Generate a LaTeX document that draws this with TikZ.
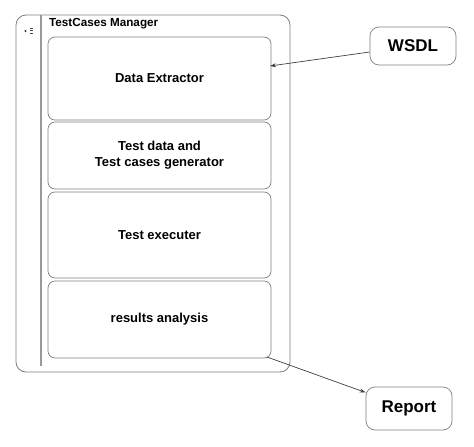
\documentclass[tikz,border=0pt]{standalone}
\usepackage{fontspec}
\setmainfont{Liberation Sans}
\usetikzlibrary{arrows.meta}
\definecolor{frame}{RGB}{128,128,128}
\tikzset{
  part/.style={draw=frame, rounded corners=7pt, minimum width=223pt, align=center, font=\bfseries\fontsize{13}{16}\selectfont, line width=0.7pt},
  ext/.style={draw=frame, rounded corners=9pt, minimum width=86pt, minimum height=38pt, font=\bfseries\fontsize{17}{20}\selectfont, line width=0.7pt},
  link/.style={draw=black!75, line width=0.7pt, -{Stealth[length=6pt,width=4pt]}}
}
\begin{document}
\begin{tikzpicture}[x=1pt,y=-1pt]
\useasboundingbox (0,0) rectangle (474,447);
% container
\draw[frame, line width=0.8pt, rounded corners=10pt] (16,15) rectangle (290,372);
\draw[black!40, line width=1.3pt] (41,15) -- (41,366);
\node[anchor=west, font=\bfseries\fontsize{11.7}{14}\selectfont, inner sep=0pt] (title) at (49,24) {TestCases Manager};
% icon
\fill[black!80] (25.5,31) circle (1.2pt);
\foreach \y in {28,30.5,33}
  \draw[black!70, line width=1pt] (30,\y) -- (33,\y);
% parts
\node[part, minimum height=83pt] (extract) at (159.5,78.5) {Data Extractor};
\node[part, minimum height=67pt] (gen) at (159.5,155.5) {Test data and\\Test cases generator};
\node[part, minimum height=86pt] (exec) at (159.5,235) {Test executer};
\node[part, minimum height=77pt] (result) at (159.5,319.5) {results analysis};
% outside
\node[ext] (wsdl) at (413,46) {WSDL};
\node[ext, minimum height=43pt] (report) at (409,408.5) {Report};
\coordinate (in) at (270,66);
\coordinate (out) at (267,357);
\draw[link] (wsdl.west) ++(0,6) -- (in);
\draw[link] (out) -- ([yshift=16pt]report.west);
\end{tikzpicture}
\end{document}
